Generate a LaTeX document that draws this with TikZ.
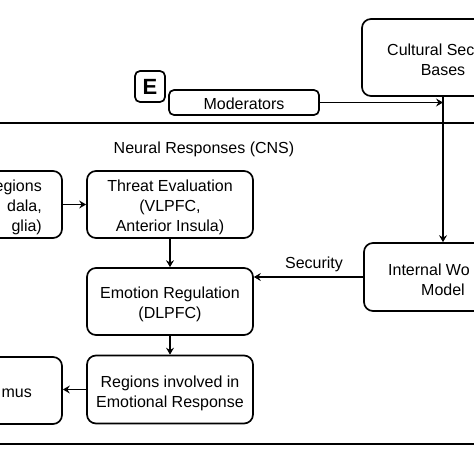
\documentclass[tikz,border=0pt]{standalone}
\usepackage{fontspec}
\setmainfont{Liberation Sans}
\usetikzlibrary{arrows.meta}
\begin{document}
\begin{tikzpicture}[x=1pt,y=-1pt,
  box/.style={draw, rounded corners=9pt, line width=1.7pt, inner sep=0pt},
  smallbox/.style={draw, rounded corners=5pt, line width=1.7pt, inner sep=0pt,
    font=\fontsize{16}{20}\selectfont},
  arr/.style={-{Stealth[length=7pt,width=8pt,inset=2.5pt]}, line width=1.5pt},
  txt/.style={font=\fontsize{16}{20}\selectfont, inner sep=0pt, align=center}]
\useasboundingbox (0,0) rectangle (474,474);
\clip (0,0) rectangle (474,474);
\fill[white] (0,0) rectangle (474,474);

% separator lines
\draw[line width=1.7pt] (-5,123) -- (480,123);
\draw[line width=1.7pt] (-5,444) -- (480,444);

% boxes
\node[box, minimum width=162pt, minimum height=77pt] (cult) at (443,57.5) {};
\node[box, minimum width=158pt, minimum height=68pt] (iwm) at (443,277) {};
\node[smallbox, minimum width=30pt, minimum height=31pt,
  font=\fontsize{22}{24}\selectfont\bfseries] (e) at (150,86.5) {E};
\node[smallbox, minimum width=150pt, minimum height=25pt] (mod) at (244,102.5) {};
\node[box, minimum width=166pt, minimum height=67pt] (left1) at (-21,204.5) {};
\node[box, minimum width=166pt, minimum height=67pt] (threat) at (170,204.5) {};
\node[box, minimum width=166pt, minimum height=67pt] (emo) at (170,301.5) {};
\node[box, minimum width=166pt, minimum height=68pt] (reg) at (170,389.5) {};
\node[box, minimum width=166pt, minimum height=67pt] (left2) at (-21,390.5) {};

% texts in boxes
\node[txt] (modt) at (244,104) {Moderators};
\node[txt] (threatt) at (170,207) {Threat Evaluation\\(VLPFC,\\Anterior Insula)};
\node[txt] (emot) at (170,304) {Emotion Regulation\\(DLPFC)};
\node[txt] (regt) at (170,393) {Regions involved in\\Emotional Response};

% partial texts
\node[txt, anchor=mid west] (cultt1) at (387,52.5) {Cultural Sec};
\node[txt, anchor=mid] (cultt2) at (443,72.5) {Bases};
\node[txt, anchor=mid west] (iwmt1) at (388,272.5) {Internal Wo};
\node[txt, anchor=mid] (iwmt2) at (443,292.5) {Model};
\node[txt, anchor=east, align=right] (left1t) at (42,207) {egions\\dala,\\glia)};
\node[txt, anchor=mid east] (left2t) at (32,394.5) {mus};

% labels
\node[txt, anchor=mid] (cns) at (204,150.5) {Neural Responses (CNS)};
\node[txt, anchor=mid] (sec) at (314,266) {Security};

% connectors
\coordinate (modend) at (mod.east -| cult.south);
\draw[arr] (mod.east) -- (modend);
\draw[arr] (cult.south) -- (iwm.north);
\draw[arr] (iwm.west) -- (iwm.west -| emo.east);
\draw[arr] (left1.east) -- (threat.west);
\draw[arr] (threat.south) -- (emo.north);
\draw[arr] (emo.south) -- (reg.north);
\draw[arr] (reg.west) -- (reg.west -| left2.east);
\end{tikzpicture}
\end{document}
